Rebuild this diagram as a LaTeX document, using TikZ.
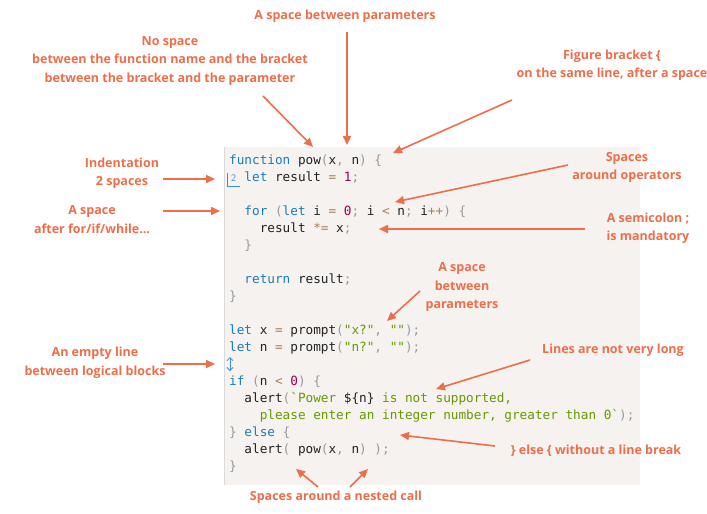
\documentclass[tikz,border=0pt]{standalone}
\usepackage{fontspec}
\setmainfont{Open Sans}
\setmonofont{DejaVu Sans Mono}
\usetikzlibrary{arrows.meta}
\definecolor{orng}{HTML}{EE6E4A}
\definecolor{kwc}{HTML}{1B7CB5}
\definecolor{nmc}{HTML}{990055}
\definecolor{stc}{HTML}{669900}
\definecolor{opc}{HTML}{A67F59}
\definecolor{puc}{HTML}{999999}
\definecolor{txc}{HTML}{222222}
\definecolor{bgc}{HTML}{F5F2F0}
\definecolor{icn}{HTML}{3C8FDD}
\newcommand{\kw}[1]{\textcolor{kwc}{#1}}
\newcommand{\nm}[1]{\textcolor{nmc}{#1}}
\newcommand{\st}[1]{\textcolor{stc}{#1}}
\newcommand{\op}[1]{\textcolor{opc}{#1}}
\newcommand{\pu}[1]{\textcolor{puc}{#1}}
\tikzset{
  lbl/.style={text=orng,font=\bfseries\fontsize{12.5}{18.5}\selectfont,align=center,inner sep=0pt},
  arr/.style={draw=orng,line width=1.6pt,-{Triangle[length=9pt,width=8pt]}},
  code/.style={anchor=base west,inner sep=0pt,text=txc,font=\ttfamily\fontsize{12.7}{17}\selectfont}
}
\begin{document}
\begin{tikzpicture}[x=1pt,y=-1pt]
\useasboundingbox[fill=white] (0,0) rectangle (707,514);
\fill[bgc] (224,147) rectangle (640,485);
\draw[black!15,line width=1pt] (224.5,147) -- (224.5,485);
% code
\node[code] (c1) at (229,164) {\kw{function}~pow\pu{(}x\pu{,}~n\pu{)}~\pu{\{}};
\node[code] (c2) at (229,181) {~~\kw{let}~result~\op{=}~\nm{1}\pu{;}};
\node[code] (c3) at (229,215) {~~\kw{for}~\pu{(}\kw{let}~i~\op{=}~\nm{0}\pu{;}~i~\op{<}~n\pu{;}~i\op{++}\pu{)}~\pu{\{}};
\node[code] (c4) at (229,232) {~~~~result~\op{*=}~x\pu{;}};
\node[code] (c5) at (229,249) {~~\pu{\}}};
\node[code] (c6) at (229,283) {~~\kw{return}~result\pu{;}};
\node[code] (c7) at (229,300) {\pu{\}}};
\node[code] (c8) at (229,334) {\kw{let}~x~\op{=}~prompt\pu{(}\st{"x?"}\pu{,}~\st{""}\pu{);}};
\node[code] (c9) at (229,351) {\kw{let}~n~\op{=}~prompt\pu{(}\st{"n?"}\pu{,}~\st{""}\pu{);}};
\node[code] (c10) at (229,385) {\kw{if}~\pu{(}n~\op{<}~\nm{0}\pu{)}~\pu{\{}};
\node[code] (c11) at (229,402) {~~alert\pu{(}\st{`Power~}\$\{n\}\st{~is~not~supported,}};
\node[code] (c12) at (229,419) {~~~~\st{please~enter~an~integer~number,~greater~than~0`}\pu{);}};
\node[code] (c13) at (229,436) {\pu{\}}~\kw{else}~\pu{\{}};
\node[code] (c14) at (229,453) {~~alert\pu{(}~pow\pu{(}x\pu{,}~n\pu{)}~\pu{);}};
\node[code] (c15) at (229,470) {\pu{\}}};
% icons
\draw[icn,line width=0.8pt] (227.5,173) -- (227.5,186) -- (240,186);
\node[text=icn,inner sep=0pt,font=\sffamily\fontsize{10}{10}\selectfont] (ic2) at (233.5,178.5) {2};
\draw[icn,line width=0.8pt,{Straight Barb[length=3pt]}-{Straight Barb[length=3pt]}] (230,357) -- (230,371);
\coordinate (ice) at (230,364);
% labels
\node[lbl] (l1) at (345,16) {A space between parameters};
\node[lbl] (l2) at (170,61) {No space\\between the function name and the bracket\\between the bracket and the parameter};
\node[lbl] (l3) at (612,65.5) {Figure bracket \{\\on the same line, after a space};
\node[lbl] (l4) at (122,173.5) {Indentation\\2 spaces};
\node[lbl] (l5) at (92,219.5) {A space\\after for/if/while...};
\node[lbl] (l6) at (627,167.5) {Spaces\\around operators};
\node[lbl] (l7) at (648,228.5) {A semicolon ;\\is mandatory};
\node[lbl] (l8) at (462,287.5) {A space\\between\\parameters};
\node[lbl] (l9) at (95,362.5) {An empty line\\between logical blocks};
\node[lbl] (l10) at (613,350) {Lines are not very long};
\node[lbl] (l11) at (596,451) {\} else \{ without a line break};
\node[lbl] (l12) at (336,497) {Spaces around a nested call};
% arrow targets
\coordinate (t1) at (347,145);
\coordinate (t2) at (313,147);
\coordinate (t3) at (393,153);
\coordinate (t4) at (215,179);
\coordinate (t5) at (220,211);
\coordinate (t6) at (395,202);
\coordinate (t7) at (379,229);
\coordinate (t8) at (387,321);
\coordinate (t9) at (215,364);
\coordinate (t10) at (436,389);
\coordinate (t11) at (400,435);
\coordinate (t12a) at (296,469);
\coordinate (t12b) at (368,469);
\draw[arr] (l1.south) ++(2,10) -- (t1);
\draw[arr] (263,96) -- (t2);
\draw[arr] (512,100) -- (t3);
\draw[arr] (l4.east |- t4) ++(4,0) -- (t4);
\draw[arr] (163,211) -- (t5);
\draw[arr] (568,165) -- (t6);
\draw[arr] (585,229) -- (t7);
\draw[arr] (420,291) -- (t8);
\draw[arr] (163,364) -- (t9);
\draw[arr] (530,360) -- (t10);
\draw[arr] (495,446) -- (t11);
\draw[arr] (318,487) -- (t12a);
\draw[arr] (350,487) -- (t12b);
\end{tikzpicture}
\end{document}
